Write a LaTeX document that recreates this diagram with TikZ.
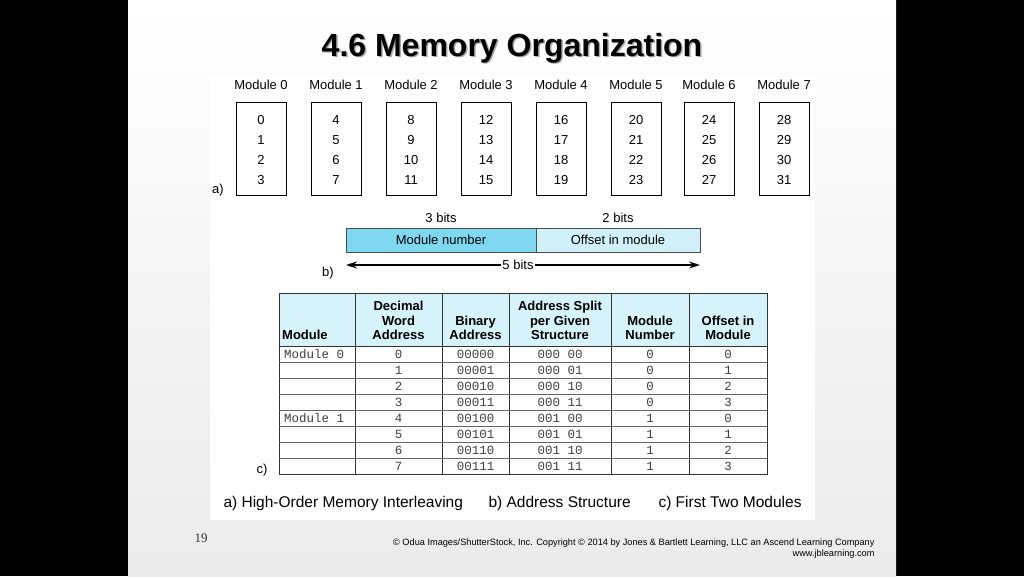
\documentclass[tikz,border=0pt]{standalone}
\usepackage{fontspec}
\usetikzlibrary{arrows.meta}
\setmainfont{Liberation Sans}
\newfontfamily\mono{Liberation Mono}
\newfontfamily\serifm{Liberation Serif}
\definecolor{mblue}{RGB}{125,216,240}
\definecolor{oblue}{RGB}{208,240,250}
\definecolor{hblue}{RGB}{214,242,250}
\begin{document}
\begin{tikzpicture}[x=1pt,y=-1pt,
  lab/.style={font=\fontsize{13}{15}\selectfont},
  mod/.style={draw=black,line width=1pt,minimum width=50pt,minimum height=93pt,inner sep=0pt},
  th/.style={font=\bfseries\fontsize{13}{14.5}\selectfont,align=center},
  td/.style={font=\mono\fontsize{12.5}{13}\selectfont,text=black!75},
  captxt/.style={font=\fontsize{15.5}{17}\selectfont,anchor=west},
  arr/.style={-{Stealth[length=11pt,width=7pt]},line width=1.1pt}]
\useasboundingbox (0,0) rectangle (1024,576);
\fill[black] (0,0) rectangle (1024,576);
\shade[top color=white,bottom color=black!8] (128,0) rectangle (896,576);
\fill[white] (210,75) rectangle (815,520);
\node[font=\bfseries\fontsize{32}{34}\selectfont,text=black!35] at (513.5,49.5) {4.6 Memory Organization};
\node[font=\bfseries\fontsize{32}{34}\selectfont] (title) at (512,48) {4.6 Memory Organization};
% modules
\foreach \i/\cx in {0/261,1/336,2/411,3/486,4/561,5/636,6/709,7/784}{
  \node[lab] (ml\i) at (\cx,85) {Module \i};
  \node[mod] (m\i) at (\cx,148.5) {};
  \pgfmathtruncatemacro\a{4*\i}
  \pgfmathtruncatemacro\b{4*\i+1}
  \pgfmathtruncatemacro\c{4*\i+2}
  \pgfmathtruncatemacro\d{4*\i+3}
  \node[lab] at (\cx,120) {\a};
  \node[lab] at (\cx,140) {\b};
  \node[lab] at (\cx,160) {\c};
  \node[lab] at (\cx,180) {\d};
}
\node[lab] (la) at (218,190) {a)};
% address structure
\node[draw=black!70,fill=mblue,minimum width=190pt,minimum height=24pt,inner sep=0pt,lab] (mn) at (441,240) {Module number};
\node[draw=black!70,fill=oblue,minimum width=164pt,minimum height=24pt,inner sep=0pt,lab] (om) at (618,240) {Offset in module};
\node[lab] at (441,218) {3 bits};
\node[lab] at (618,218) {2 bits};
\coordinate (al) at (346,265);
\coordinate (ar) at (700,265);
\node[lab,fill=white,inner sep=1pt] (fb) at (518,265) {5 bits};
\draw[arr] (fb) -- (al);
\draw[arr] (fb) -- (ar);
\node[lab] (lb) at (328,273) {b)};
% table
\fill[hblue] (279,293) rectangle (767,346);
\draw[black!80,line width=1pt] (279,293) rectangle (767,474);
\foreach \x in {355,442,509,611,689} \draw[black!80,line width=1pt] (\x,293) -- (\x,474);
\draw[black!80,line width=1pt] (279,346) -- (767,346);
\foreach \k in {1,...,7} \draw[black!60,line width=0.6pt] (279,346+16*\k) -- (767,346+16*\k);
\node[th,anchor=south west,inner sep=2pt] at (280,342) {Module};
\node[th,anchor=south,inner sep=2pt] at (398.5,342) {Decimal\\Word\\Address};
\node[th,anchor=south,inner sep=2pt] at (475.5,342) {Binary\\Address};
\node[th,anchor=south,inner sep=2pt] at (560,342) {Address Split\\per Given\\Structure};
\node[th,anchor=south,inner sep=2pt] at (650,342) {Module\\Number};
\node[th,anchor=south,inner sep=2pt] at (728,342) {Offset in\\Module};
\foreach \r/\bin/\sp/\mn/\of in {0/00000/000 00/0/0,1/00001/000 01/0/1,2/00010/000 10/0/2,3/00011/000 11/0/3,4/00100/001 00/1/0,5/00101/001 01/1/1,6/00110/001 10/1/2,7/00111/001 11/1/3}{
  \node[td] at (398.5,354+16*\r) {\r};
  \node[td] at (475.5,354+16*\r) {\bin};
  \node[td] at (560,354+16*\r) {\sp};
  \node[td] at (650,354+16*\r) {\mn};
  \node[td] at (728,354+16*\r) {\of};
}
\node[td,anchor=west,inner sep=1pt] at (283,354) {Module 0};
\node[td,anchor=west,inner sep=1pt] at (283,418) {Module 1};
\node[lab] (lc) at (262,470) {c)};
% captions
\node[captxt] at (220,503) {a) High-Order Memory Interleaving};
\node[captxt] at (485,503) {b) Address Structure};
\node[captxt] at (655,503) {c) First Two Modules};
\node[font=\serifm\fontsize{13}{14}\selectfont,text=black!80] at (201,538) {19};
\node[font=\fontsize{9.2}{11}\selectfont,anchor=east,align=right] at (878,549) {© Odua Images/ShutterStock, Inc. Copyright © 2014 by Jones \& Bartlett Learning, LLC an Ascend Learning Company\\www.jblearning.com};
\end{tikzpicture}
\end{document}
